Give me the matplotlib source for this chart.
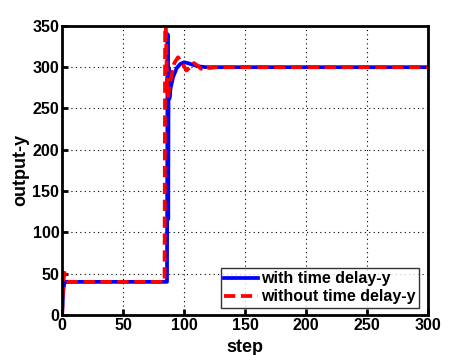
import matplotlib
matplotlib.use("Agg")
import matplotlib.pyplot as plt

# system output with time delay (blue, solid)
with_delay_x = [0, 1, 2, 3, 86, 86.5, 87, 87.3, 88, 89, 91, 94, 97, 100, 103, 107, 112, 118, 125, 300]
with_delay_y = [0, 30, 40, 40, 40, 340, 116, 300, 262, 275, 288, 299, 304, 306, 305, 303, 301, 300, 300, 300]

# system output without time delay (red, dashed)
no_delay_x = [0, 1, 2, 3, 5, 84, 84.5, 85, 86, 87, 89, 92, 95, 98, 102, 105, 108, 111, 114, 117, 121, 126, 300]
no_delay_y = [0, 40, 51, 45, 40, 40, 360, 355, 280, 265, 285, 305, 312, 306, 296, 300, 305, 302, 298, 301, 299, 300, 300]

plt.rcParams["font.family"] = ["Liberation Sans", "DejaVu Sans"]
plt.rcParams["font.weight"] = "bold"

fig = plt.figure(figsize=(4.74, 3.55), dpi=100)
ax = fig.add_axes([0.131, 0.113, 0.772, 0.814])

ax.plot(with_delay_x, with_delay_y, color="#0000ff", linewidth=2.7, label="with time delay-y")
ax.plot(no_delay_x, no_delay_y, color="#ff0000", linewidth=2.7, linestyle=(0, (3, 1.5)),
        label="without time delay-y")

ax.set_xlim(0, 300)
ax.set_ylim(0, 350)
ax.set_xticks(range(0, 301, 50))
ax.set_yticks(range(0, 351, 50))
ax.grid(True, color="black", linestyle=(0, (1, 3)), linewidth=0.8)
ax.tick_params(direction="in", length=4, width=2, labelsize=11.5, pad=2)
for lab in ax.get_xticklabels() + ax.get_yticklabels():
    lab.set_fontweight("bold")
for sp in ax.spines.values():
    sp.set_linewidth(2)

ax.set_xlabel("step", fontsize=13, fontweight="bold", labelpad=-4)
ax.set_ylabel("output-y", fontsize=13, fontweight="bold", labelpad=2)
ax.xaxis.set_label_coords(0.5, -0.085)

leg = ax.legend(loc="lower right", fontsize=11.5, frameon=True, fancybox=False,
                handlelength=2.1, handletextpad=0.2, borderpad=0.2,
                labelspacing=0.2, borderaxespad=0, bbox_to_anchor=(0.975, 0.025))
leg.get_frame().set_edgecolor("black")
leg.get_frame().set_linewidth(1)
for t in leg.get_texts():
    t.set_fontweight("bold")

fig.savefig("out.png", dpi=100)
